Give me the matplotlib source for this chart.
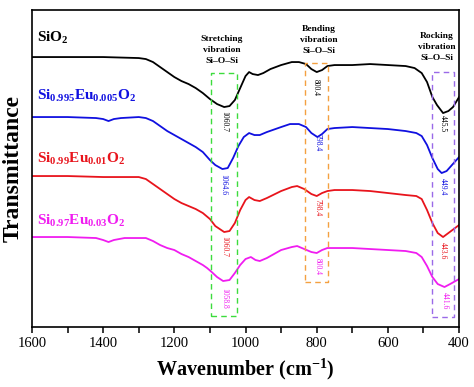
import numpy as np
import matplotlib
matplotlib.use("Agg")
import matplotlib.pyplot as plt

plt.rcParams["font.family"] = "Liberation Serif"
plt.rcParams["mathtext.fontset"] = "custom"
plt.rcParams["mathtext.rm"] = "Liberation Serif"
plt.rcParams["mathtext.bf"] = "Liberation Serif:bold"

# spectra (wavenumber, offset transmittance in arbitrary units)
wn_sio2 = [1600, 1500, 1400, 1300, 1280, 1260, 1240, 1220, 1200, 1180, 1160, 1140, 1120, 1100,
           1080, 1060, 1045, 1030, 1015, 1000, 990, 980, 965, 950, 930, 900, 870, 850, 830, 815,
           800, 785, 770, 750, 700, 650, 600, 550, 525, 505, 490, 475, 462, 445, 430, 417, 400]
t_sio2 = [270, 270, 270, 269, 268, 265, 260, 255, 250, 246, 243, 239, 234, 228,
          223, 220, 221, 227, 239, 251, 255, 253, 252, 254, 258, 262, 265, 265, 263, 258,
          255, 257, 261, 262, 262, 263, 262, 261, 259, 254, 245, 230, 222, 214, 216, 220, 230]

wn_eu005 = [1600, 1500, 1420, 1400, 1385, 1370, 1350, 1300, 1280, 1260, 1240, 1220, 1200, 1180,
            1160, 1140, 1120, 1100, 1085, 1065, 1050, 1035, 1020, 1005, 990, 975, 960, 940, 900,
            875, 850, 830, 815, 798, 785, 770, 750, 700, 650, 600, 550, 520, 505, 490, 475, 460,
            449, 435, 420, 400]
t_eu005 = [210, 210, 209, 208, 206, 208, 209, 210, 209, 206, 201, 196, 192, 188,
           184, 180, 175, 167, 162, 158, 159, 169, 181, 190, 194, 192, 192, 195, 200,
           203, 203, 200, 194, 190, 193, 198, 199, 200, 199, 198, 196, 194, 191, 182, 169, 158,
           154, 156, 162, 170]

wn_eu01 = [1600, 1500, 1400, 1300, 1280, 1260, 1240, 1220, 1200, 1180, 1160, 1140, 1120, 1100,
           1085, 1060, 1045, 1030, 1015, 1000, 990, 975, 960, 940, 900, 870, 855, 835, 815, 800,
           785, 770, 750, 700, 650, 600, 550, 520, 505, 490, 475, 460, 445, 430, 415, 400]
t_eu01 = [151, 151, 150, 150, 148, 143, 138, 133, 128, 124, 121, 118, 114, 108,
          101, 95, 96, 104, 117, 127, 130, 127, 126, 129, 136, 140, 141, 138, 133, 131,
          134, 136, 137, 137, 136, 134, 132, 131, 128, 117, 104, 94, 90, 94, 98, 102]

wn_eu03 = [1600, 1500, 1420, 1400, 1385, 1370, 1340, 1300, 1280, 1260, 1240, 1220, 1200, 1180,
           1160, 1140, 1120, 1108, 1095, 1080, 1063, 1045, 1030, 1015, 1000, 985, 972, 960, 940,
           900, 870, 855, 835, 815, 800, 785, 770, 750, 700, 650, 600, 550, 520, 505, 490, 475,
           460, 441, 425, 410, 400]
t_eu03 = [90, 90, 89, 87, 85, 87, 89, 89, 89, 86, 82, 79, 77, 73,
          70, 66, 62, 59, 55, 50, 46, 47, 54, 62, 68, 70, 67, 66, 69,
          77, 80, 81, 78, 75, 74, 77, 79, 79, 79, 78, 77, 76, 74, 70, 61, 50,
          43, 40, 43, 46, 48]

series_names = [r"$\mathbf{SiO_2}$",
                r"$\mathbf{Si_{0.995}Eu_{0.005}O_2}$",
                r"$\mathbf{Si_{0.99}Eu_{0.01}O_2}$",
                r"$\mathbf{Si_{0.97}Eu_{0.03}O_2}$"]
series_colors = ["black", "#1010e0", "#e8141c", "#f01cf0"]

# band regions (wavenumber span, vertical span) and their labels
band_titles = ["Stretching\nvibration\nSi–O–Si", "Bending\nvibration\nSi–O–Si", "Rocking\nvibration\nSi–O–Si"]
band_spans = [(1097, 1024), (833, 768), (476, 414)]
band_vspans = [(11, 254), (45, 264), (10, 255)]
band_colors = ["#3ddc3d", "#f4a040", "#9a6ae8"]

# peak annotations: (text, wavenumber, vertical position, series index)
peak_labels = [("1060.7", 1061, 206, 0), ("800.4", 802, 240, 0), ("445.5", 445, 203, 0),
               ("1064.6", 1063, 142, 1), ("798.4", 797, 184, 1), ("449.4", 445, 140, 1),
               ("1060.7", 1061, 81, 2), ("798.4", 797, 119, 2), ("443.6", 445, 76, 2),
               ("1058.8", 1061, 29, 3), ("800.4", 797, 61, 3), ("441.6", 441, 26, 3)]

fig = plt.figure(figsize=(4.74, 3.87), dpi=100)
ax = fig.add_axes([0.0675, 0.155, 0.901, 0.819])

curves = [(wn_sio2, t_sio2), (wn_eu005, t_eu005), (wn_eu01, t_eu01), (wn_eu03, t_eu03)]
for (wn, t), c in zip(curves, series_colors):
    ax.plot(wn, t, color=c, lw=1.3)

for (x0, x1), (y0, y1), c in zip(band_spans, band_vspans, band_colors):
    ax.plot([x0, x1, x1, x0, x0], [y0, y0, y1, y1, y0], ls=(0, (4, 3)), color=c, lw=1.0)

title_pos = [(1066, 277), (793, 287), (462, 280)]
for txt, (x, y) in zip(band_titles, title_pos):
    ax.text(x, y, txt, ha="center", va="center", fontsize=6.8, fontweight="bold", linespacing=1.45)

for txt, x, y, i in peak_labels:
    ax.text(x, y, txt, rotation=-90, ha="center", va="center", fontsize=5.5, color=series_colors[i])

name_pos = [289, 231, 168, 106]
for name, y, c in zip(series_names, name_pos, series_colors):
    ax.text(1585, y, name, ha="left", va="center", fontsize=11, color=c)

ax.set_xlim(1600, 400)
ax.set_ylim(0, 317)
ax.set_xticks([1600, 1400, 1200, 1000, 800, 600, 400])
ax.set_xticks(np.arange(1500, 400, -200), minor=True)
ax.set_yticks([])
ax.tick_params(axis="x", which="both", direction="out", length=4, width=1.1, labelsize=10.5, top=False)
for s in ax.spines.values():
    s.set_linewidth(1.2)

ax.set_xlabel("Wavenumber (cm$^{\\mathbf{-1}}$)", fontsize=14.5, fontweight="bold", labelpad=4)
ax.set_ylabel("Transmittance", fontsize=17, fontweight="bold", labelpad=6)

fig.savefig("out.png", dpi=100)
